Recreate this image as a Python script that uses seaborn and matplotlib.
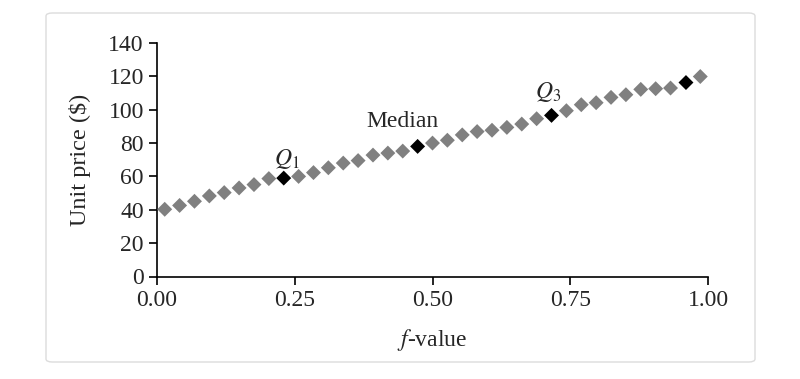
import matplotlib
matplotlib.use('Agg')
import matplotlib.pyplot as plt
from matplotlib.patches import FancyBboxPatch
import pandas as pd
import seaborn as sns

# f-values (rank based) and the sorted unit prices
f_values = [0.014, 0.041, 0.068, 0.095, 0.122, 0.149, 0.176, 0.203, 0.230,
            0.257, 0.284, 0.311, 0.338, 0.365, 0.392, 0.419, 0.446, 0.473,
            0.500, 0.527, 0.554, 0.581, 0.608, 0.635, 0.662, 0.689, 0.716,
            0.743, 0.770, 0.797, 0.824, 0.851, 0.878, 0.905, 0.932, 0.960,
            0.986]
prices = [40.3, 42.6, 45.1, 48.3, 50.3, 53.1, 55.1, 58.7, 59.0,
          60.0, 62.3, 65.2, 68.0, 69.5, 72.8, 74.0, 75.2, 78.0,
          80.0, 81.7, 84.9, 86.9, 87.7, 89.4, 91.4, 94.6, 96.6,
          99.4, 103.0, 104.2, 107.4, 109.0, 112.2, 112.6, 113.0, 116.3,
          119.9]
# indices of the highlighted (black) points
marked = [8, 17, 26, 35]
labels = {8: r'$Q_1$', 17: 'Median', 26: r'$Q_3$'}
label_offsets = {8: (3, 13), 17: (-15, 19), 26: (-3, 17)}

xticks = [0.0, 0.25, 0.5, 0.75, 1.0]
yticks = [0, 20, 40, 60, 80, 100, 120, 140]

df = pd.DataFrame({'f': f_values, 'price': prices})
df['kind'] = ['mark' if i in marked else 'plain' for i in range(len(df))]

sns.set_style('ticks')
plt.rcParams['font.family'] = ['Liberation Serif', 'DejaVu Serif']
plt.rcParams['mathtext.fontset'] = 'stix'

fig = plt.figure(figsize=(8, 3.79), dpi=100)
card = FancyBboxPatch((46 / 800, 1 - 362 / 379), 709 / 800, 349 / 379,
                      boxstyle='round,pad=0,rounding_size=0.008',
                      transform=fig.transFigure, facecolor='white',
                      edgecolor='#dcdcdc', linewidth=1.0, zorder=-5)
fig.patches.append(card)
ax = fig.add_axes([157 / 800, 1 - 276.5 / 379, 551 / 800, 233.5 / 379])
ax.set_facecolor('none')

sns.scatterplot(data=df, x='f', y='price', hue='kind', marker='D', s=58,
                palette={'plain': '#808080', 'mark': 'black'}, linewidth=0,
                legend=False, ax=ax, zorder=3)

for i, txt in labels.items():
    ax.annotate(txt, (f_values[i], prices[i]), xytext=label_offsets[i],
                textcoords='offset pixels', ha='center', va='baseline',
                fontsize=17)

ax.set_xlim(0, 1)
ax.set_ylim(0, 140)
ax.set_xticks(xticks)
ax.set_xticklabels(['%.2f' % t for t in xticks])
ax.set_yticks(yticks)
ax.tick_params(labelsize=17, length=6, width=1.2, pad=3.5, color='black')
ax.set_xlabel(r'$\mathit{f}$-value', fontsize=17)
ax.set_ylabel('Unit price ($)', fontsize=17.5)
ax.xaxis.set_label_coords(0.5, -0.215)
ax.yaxis.set_label_coords(-0.12, 0.5)
sns.despine(ax=ax)
for s in ['left', 'bottom']:
    ax.spines[s].set_linewidth(1.2)
    ax.spines[s].set_color('black')

fig.savefig('out.png', dpi=100)
